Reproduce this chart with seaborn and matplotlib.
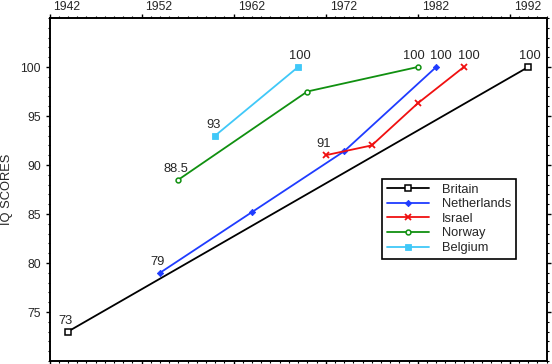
import matplotlib
matplotlib.use("Agg")
import matplotlib.pyplot as plt
import matplotlib.transforms as mtrans
import seaborn as sns
import pandas as pd

# DATA

britain_years = [1944, 1994]
britain_iq = [73, 100]

netherlands_years = [1954, 1964, 1974, 1984]
netherlands_iq = [79, 85.2, 91.4, 100]

israel_years = [1972, 1977, 1982, 1987]
israel_iq = [91, 92, 96.3, 100]

norway_years = [1956, 1970, 1982]
norway_iq = [88.5, 97.5, 100]

belgium_years = [1960, 1969]
belgium_iq = [93, 100]

x_ticks = [1942, 1952, 1962, 1972, 1982, 1992]
y_ticks = [75, 80, 85, 90, 95, 100]

# STYLE PER SERIES (last entry = horizontal nudge of the end label, in points)

series = [
    ("Britain", britain_years, britain_iq,
     dict(color="black", marker="s", markersize=4.5, markerfacecolor="white", markeredgecolor="black", markeredgewidth=1.1), 1),
    ("Netherlands", netherlands_years, netherlands_iq,
     dict(color="#1f3cff", marker="D", markersize=3.2, markerfacecolor="#1f3cff", markeredgecolor="#1f3cff", markeredgewidth=0.6), 3.5),
    ("Israel", israel_years, israel_iq,
     dict(color="#f01010", marker="x", markersize=4, markerfacecolor="#f01010", markeredgecolor="#f01010", markeredgewidth=1.3), 3.5),
    ("Norway", norway_years, norway_iq,
     dict(color="#109010", marker="o", markersize=3.5, markerfacecolor="white", markeredgecolor="#109010", markeredgewidth=1.1), -3),
    ("Belgium", belgium_years, belgium_iq,
     dict(color="#40c8f8", marker="s", markersize=4.5, markerfacecolor="#40c8f8", markeredgecolor="#40c8f8", markeredgewidth=0.6), 1),
]

# PLOT

sns.set_style("ticks")
plt.rcParams["font.family"] = ["Liberation Sans", "DejaVu Sans"]

fig = plt.figure(figsize=(5.52, 3.64), dpi=100)
ax = fig.add_axes([49.5 / 552, 3 / 364, (546.7 - 49.5) / 552, (361 - 18) / 364])

for name, years, iq, style, end_dx in series:
    df = pd.DataFrame({"year": years, "iq": iq})
    sns.lineplot(data=df, x="year", y="iq", ax=ax, label=name, linewidth=1.3, **style)
    # value labels on first and last point
    for i, dx in ((0, -1.5), (-1, end_dx)):
        v = iq[i]
        ax.annotate(f"{v:g}", (years[i], v), xytext=(dx, 3.4), textcoords="offset points",
                    ha="center", va="bottom", fontsize=9.3)

ax.set_xlim(1942, 1996)
ax.set_ylim(70, 105)
ax.set_xticks(x_ticks)
ax.set_yticks(y_ticks)
ax.set_xticks(range(1942, 1997), minor=True)
ax.set_yticks(range(70, 106), minor=True)

ax.xaxis.tick_top()
ax.tick_params(axis="x", which="both", top=True, bottom=True, labeltop=True, labelbottom=False)
ax.tick_params(axis="y", which="both", left=True, right=True, labelleft=True, labelright=False)
ax.tick_params(which="major", length=2.7, width=1, labelsize=8.8, color="black")
ax.tick_params(axis="x", which="major", pad=1)
ax.tick_params(axis="y", which="major", pad=3.5)
ax.tick_params(which="minor", length=1.5, width=0.8, color="black")
for sp in ax.spines.values():
    sp.set_visible(True)
    sp.set_linewidth(1.4)
    sp.set_color("black")

# year labels sit just right of their tick, as in the reference
shift = mtrans.ScaledTranslation(4 / 100, 0, fig.dpi_scale_trans)
for lab in ax.get_xticklabels():
    lab.set_horizontalalignment("left")
    lab.set_transform(lab.get_transform() + shift)

ax.set_xlabel("")
ax.set_ylabel("IQ SCORES", fontsize=9.3)
ax.yaxis.set_label_coords((13 - 49.5) / 497.2, 0.5)

leg = ax.legend(loc="upper left", bbox_to_anchor=((382 - 49.5) / 497.2, (361 - 179) / 343),
                frameon=True, fancybox=False, fontsize=9.3, handlelength=3.3,
                borderpad=0.35, labelspacing=0.2, handletextpad=1.0, borderaxespad=0)
leg.get_frame().set_edgecolor("black")
leg.get_frame().set_linewidth(1.2)
leg.get_frame().set_alpha(1)

fig.savefig("out.png", dpi=100)
